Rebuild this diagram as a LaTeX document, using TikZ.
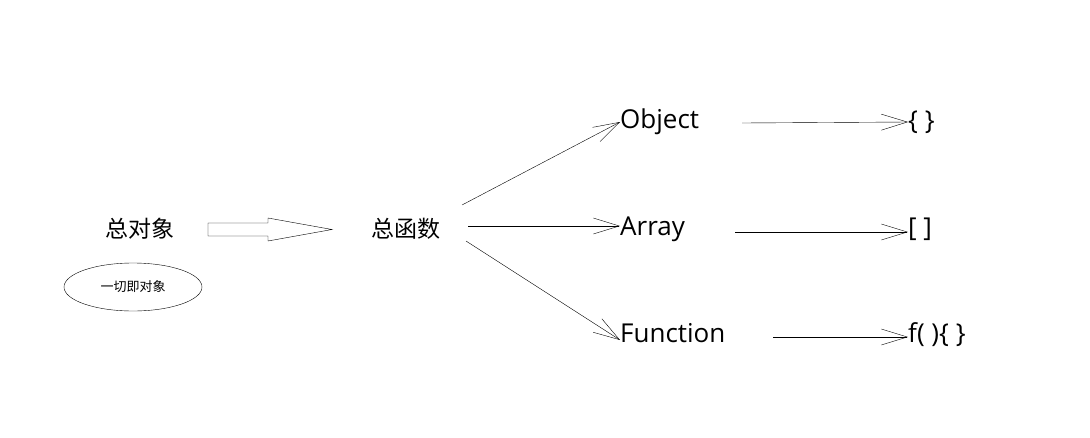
\documentclass[tikz,border=0pt]{standalone}
\usepackage{fontspec}
\setmainfont{Open Sans}
\newfontfamily\cjk{Noto Sans CJK SC}
\usetikzlibrary{arrows.meta,shapes.geometric}
\begin{document}
\begin{tikzpicture}[x=1pt,y=-1pt,
  lbl/.style={font=\fontsize{26}{30}\selectfont, anchor=west, inner sep=0pt},
  cn/.style={font=\cjk\fontsize{23}{28}\selectfont, inner sep=0pt},
  arr/.style={draw, thin, -{Straight Barb[length=26pt,width=16pt]}}]
\fill[white] (0,0) rectangle (1090,437);
\useasboundingbox (0,0) rectangle (1090,437);
\node[cn] (zdx) at (140,229) {总对象};
\node[draw, ellipse, minimum width=138pt, minimum height=48pt, inner sep=0pt,
  font=\cjk\fontsize{13}{16}\selectfont] (yq) at (133,287) {一切即对象};
\node[cn] (zhs) at (406,229) {总函数};
\draw (208,223) -- (268,223) -- (268,218) -- (332,229.5) -- (268,241) -- (268,236) -- (208,236) -- cycle;
\node[lbl] (obj) at (620,122) {Object};
\node[lbl] (arrn) at (620,229) {Array};
\node[lbl] (fun) at (620,333) {Function};
\node[lbl] (o2) at (908,122) {\{ \}};
\node[lbl] (a2) at (908,229) {[ ]};
\node[lbl] (f2) at (908,335) {f( )\{ \}};
\coordinate (s1) at (462,205);
\coordinate (s2) at (468,226);
\coordinate (s3) at (466,241);
\draw[arr] (s1) -- (obj.west);
\draw[arr] (s2) -- (620,226);
\draw[arr] (s3) -- (620,340);
\draw[arr] (742,123) -- (o2.west);
\draw[arr] (735,232) -- (908,232);
\draw[arr] (773,337) -- (908,337);
\end{tikzpicture}
\end{document}
